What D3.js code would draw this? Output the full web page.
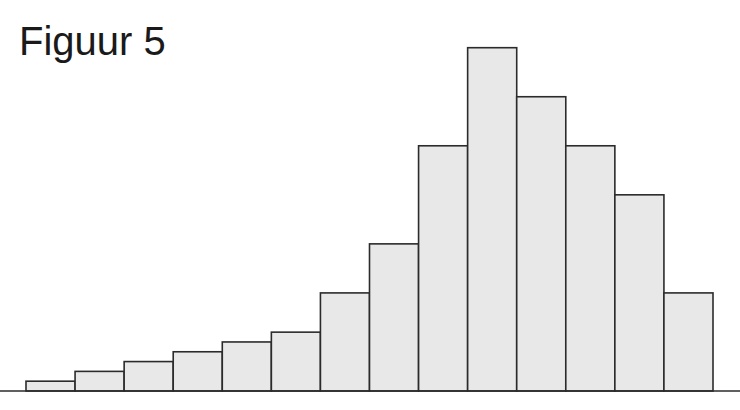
<!DOCTYPE html>
<html>
<head>
<meta charset="utf-8">
<script src="https://cdn.jsdelivr.net/npm/d3@7"></script>
<style>
  html, body { margin: 0; padding: 0; background: #fff; }
</style>
</head>
<body>
<svg id="chart" width="740" height="410"></svg>
<script>
// Histogram classes and counts
const classes = d3.range(14)
const counts = [1, 2, 3, 4, 5, 6, 10, 15, 25, 35, 30, 25, 20, 10]
const title = "Figuur 5"

const width = 740
const height = 410
const margin = { left: 26, right: 27, top: 47.7, bottom: 19 }

const svg = d3.select("#chart")

const x = d3.scaleBand()
  .domain(classes)
  .range([margin.left, width - margin.right])
  .padding(0)

const y = d3.scaleLinear()
  .domain([0, d3.max(counts)])
  .range([height - margin.bottom, margin.top])

// Bars
svg.append("g")
  .selectAll("rect")
  .data(counts)
  .enter()
  .append("rect")
  .attr("x", (d, i) => x(i))
  .attr("y", d => y(d))
  .attr("width", x.bandwidth())
  .attr("height", d => y(0) - y(d))
  .attr("fill", "#e8e8e8")
  .attr("stroke", "#2b2b2b")
  .attr("stroke-width", 1.6)

// Baseline
svg.append("line")
  .attr("x1", 0)
  .attr("x2", width)
  .attr("y1", y(0))
  .attr("y2", y(0))
  .attr("stroke", "#2b2b2b")
  .attr("stroke-width", 1.6)

// Title
svg.append("text")
  .attr("x", 19)
  .attr("y", 55)
  .style("font-family", "'Liberation Sans', Arial, sans-serif")
  .style("font-size", "40px")
  .style("fill", "#1a1a1a")
  .text(title)
</script>
</body>
</html>
